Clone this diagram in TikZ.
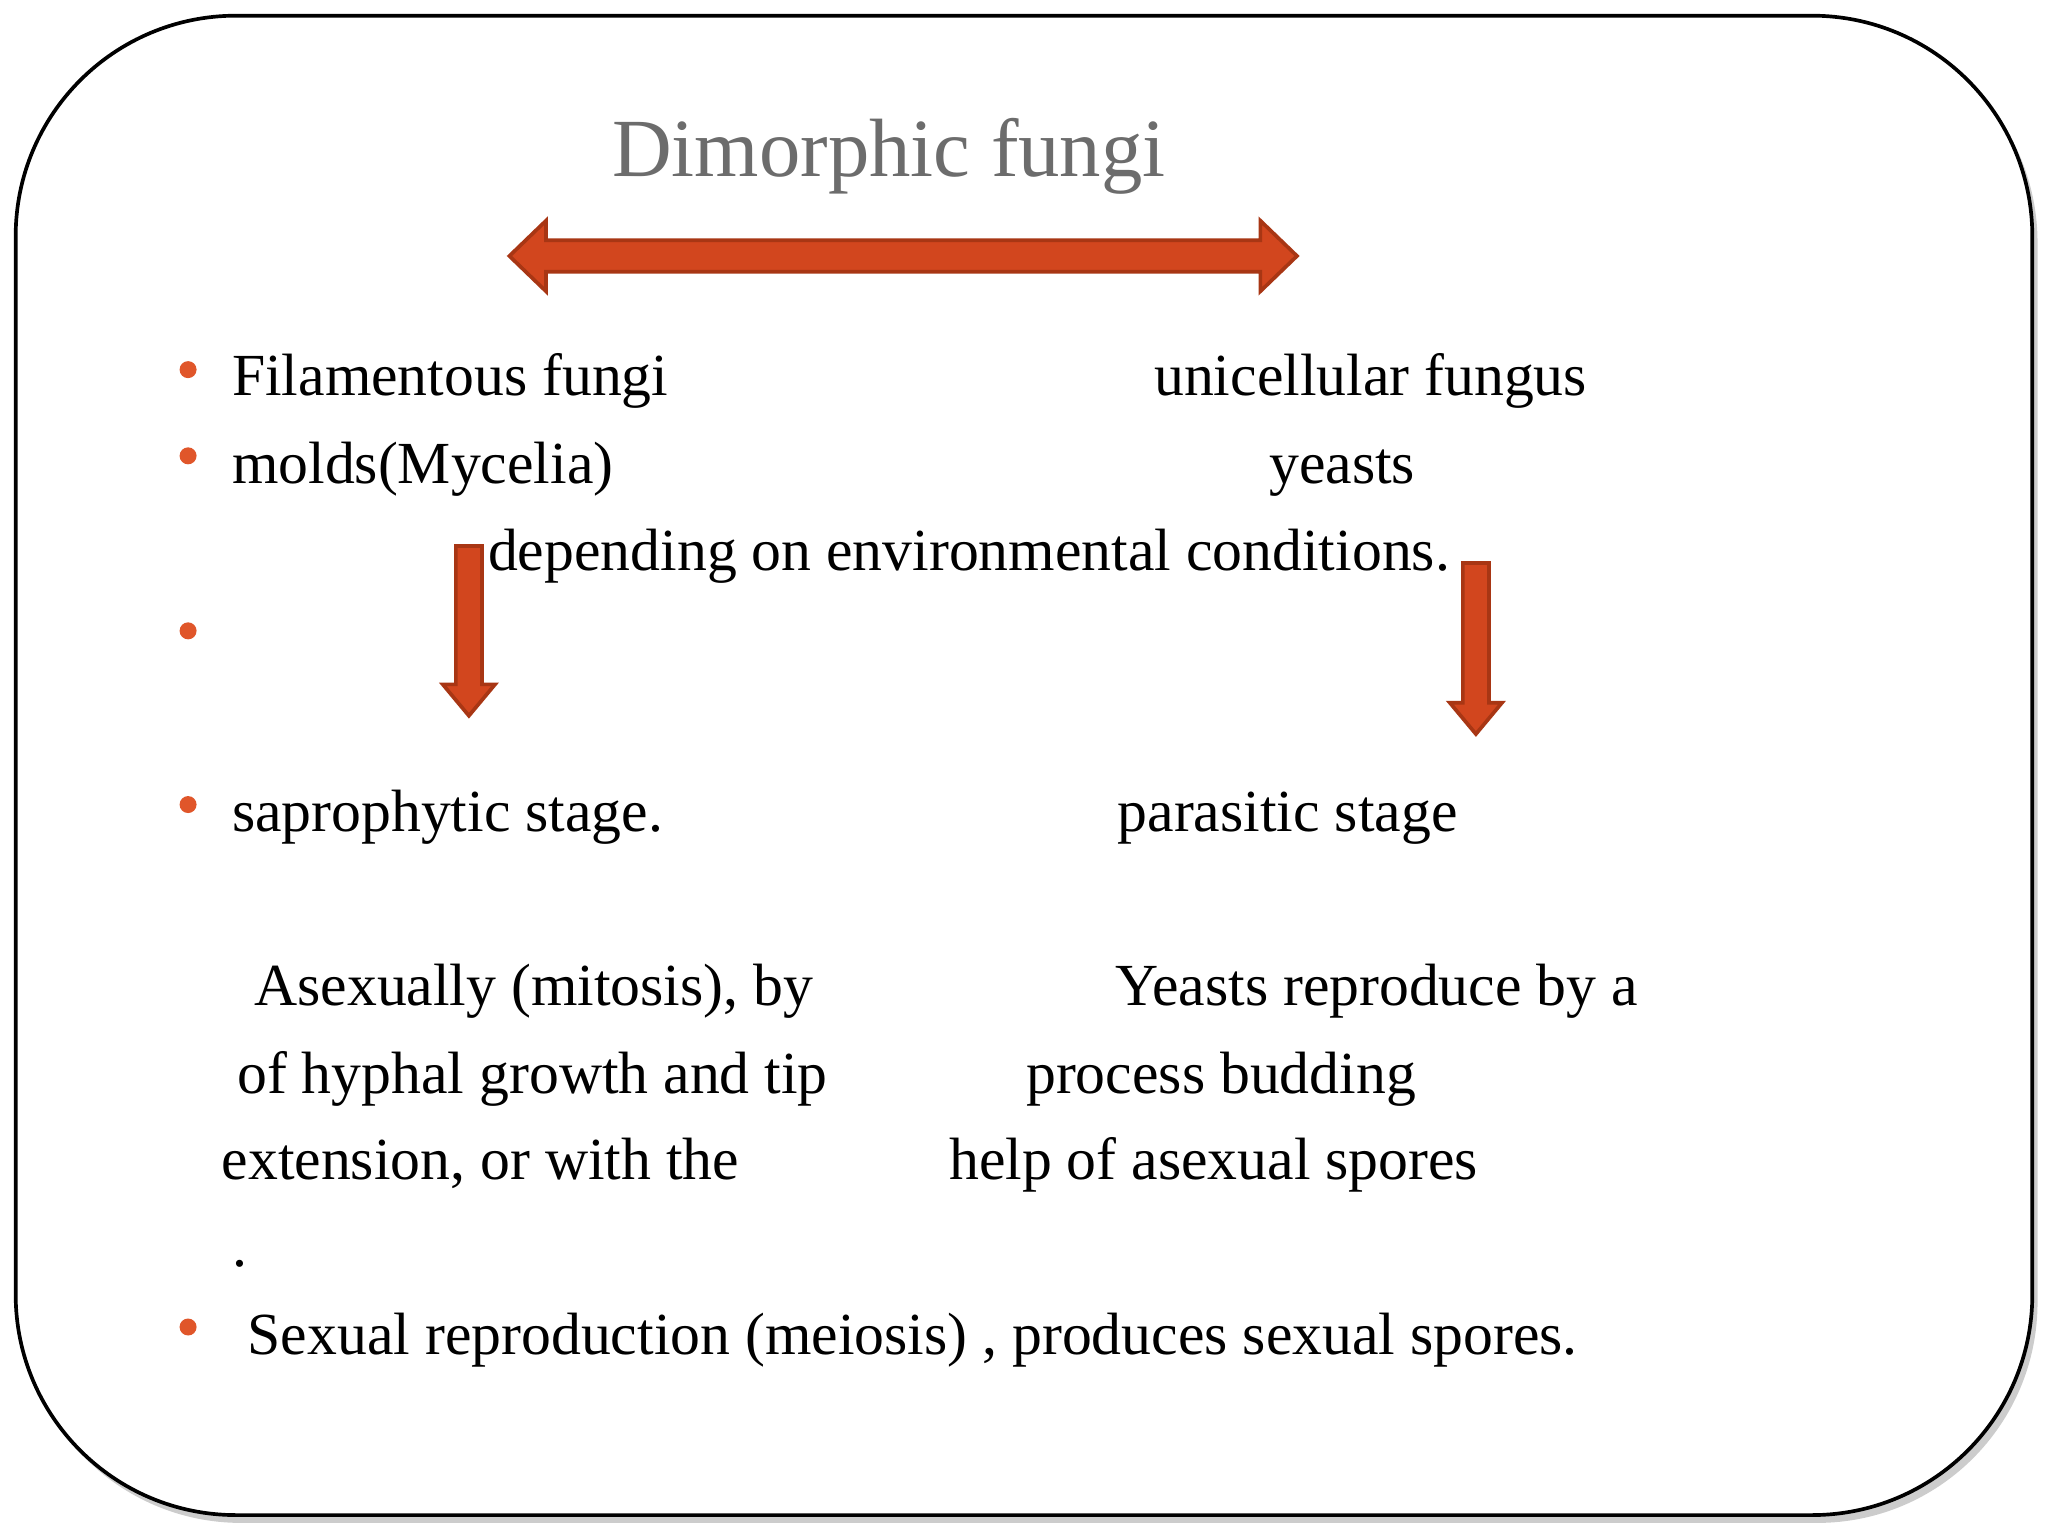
\documentclass[tikz,border=0pt]{standalone}
\usepackage{fontspec}
\setmainfont{Liberation Serif}
\begin{document}
\begin{tikzpicture}[x=0.01cm,y=-0.01cm,
  txt/.style={anchor=base west,inner sep=0pt,font=\fontsize{13pt}{15pt}\selectfont},
  bul/.style={circle,fill=bulletc,inner sep=0pt,minimum size=0.13cm},
  arr/.style={fill=arrowc,draw=arrowd,line width=0.8pt}]
\definecolor{bulletc}{HTML}{E0562A}
\definecolor{arrowc}{HTML}{D2461E}
\definecolor{arrowd}{HTML}{A83614}
\useasboundingbox (0,0) rectangle (1568,1176);
\fill[gray!40,rounded corners=48] (16,17) rectangle (1560,1166);
\draw[fill=white,line width=0.8pt,rounded corners=48] (12,12) rectangle (1556,1160);
\node[anchor=base west,inner sep=0pt,text=gray!85!black,font=\fontsize{18pt}{20pt}\selectfont] (title) at (468,135) {Dimorphic fungi};
\draw[arr] (390,196) -- (418,169) -- (418,184) -- (965,184) -- (965,169) -- (993,196) -- (965,223) -- (965,208) -- (418,208) -- (418,223) -- cycle;
\draw[arr] (349,418) -- (369,418) -- (369,524) -- (379,524) -- (359,548) -- (339,524) -- (349,524) -- cycle;
\draw[arr] (1120,431) -- (1140,431) -- (1140,538) -- (1150,538) -- (1130,562) -- (1110,538) -- (1120,538) -- cycle;
\foreach \y [count=\i] in {283,349,483,616,1016} \node[bul] (b\i) at (144,\y) {};
\node[txt] (t1) at (177,303) {Filamentous fungi};
\node[txt] (t2) at (883,303) {unicellular fungus};
\node[txt] (t3) at (177,370) {molds(Mycelia)};
\node[txt] (t4) at (971,370) {yeasts};
\node[txt] (t5) at (373,437) {depending on environmental conditions.};
\node[txt] (t6) at (177,637) {saprophytic stage.};
\node[txt] (t7) at (855,637) {parasitic stage};
\node[txt] (t8) at (194,770) {Asexually (mitosis), by};
\node[txt] (t9) at (181,837) {of hyphal growth and tip};
\node[txt] (t10) at (169,903) {extension, or with the};
\node[txt] (t11) at (177,970) {.};
\node[txt] (t12) at (853,770) {Yeasts reproduce by a};
\node[txt] (t13) at (785,837) {process budding};
\node[txt] (t14) at (726,903) {help of asexual spores};
\node[txt] (t15) at (189,1037) {Sexual reproduction (meiosis) , produces sexual spores.};
\end{tikzpicture}
\end{document}
